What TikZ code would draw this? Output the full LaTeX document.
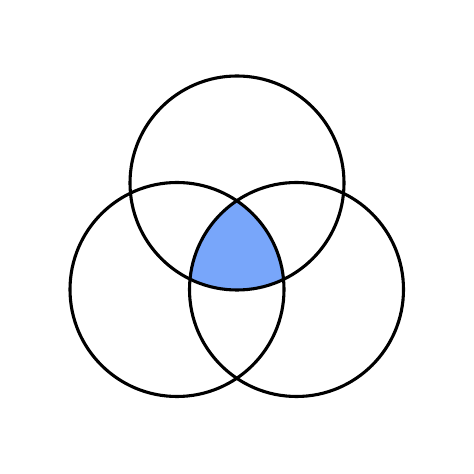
\documentclass[tikz,border=0pt]{standalone}
\definecolor{vennblue}{RGB}{120,166,250}
\begin{document}
\begin{tikzpicture}[x=1pt,y=1pt]
  \def\circleradius{107}
  \def\circlewidth{3.1}
  \useasboundingbox (0,0) rectangle (474,474);
  \coordinate (top) at (237,291);
  \coordinate (left) at (177,184.5);
  \coordinate (right) at (296.5,184.5);
  % triple intersection
  \begin{scope}
    \clip (top) circle (\circleradius);
    \clip (left) circle (\circleradius);
    \fill[vennblue] (right) circle (\circleradius);
  \end{scope}
  \foreach \c in {top,left,right} {
      \draw[black,line width=\circlewidth] (\c) circle (\circleradius);
  }
\end{tikzpicture}
\end{document}
